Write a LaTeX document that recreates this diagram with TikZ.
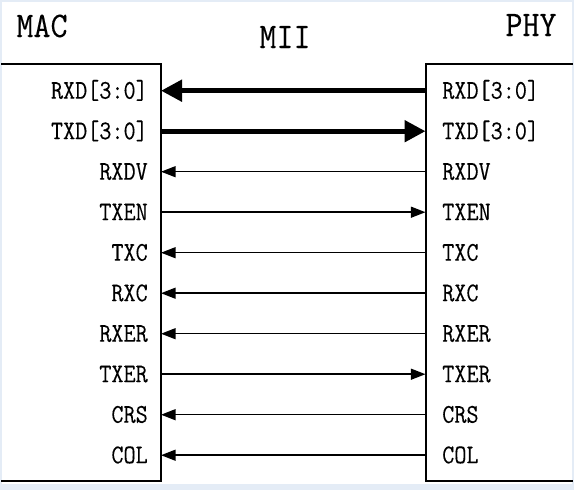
\documentclass[tikz,border=0pt]{standalone}
\usepackage{fontspec}
\newfontfamily\sigfont[FakeStretch=0.87,FakeBold=0.2]{Latin Modern Mono}
\newfontfamily\titlefont[FakeStretch=0.92,FakeBold=0.2]{Latin Modern Mono}
\usetikzlibrary{arrows.meta}
\definecolor{frameblue}{HTML}{E4ECF6}
\tikzset{
  boxline/.style={line width=1.5pt, line cap=rect},
  sig/.style={font=\sigfont\fontsize{20.25}{21}\selectfont, inner sep=0pt},
  lsig/.style={sig, anchor=base east},
  rsig/.style={sig, anchor=base west},
  titletext/.style={font=\titlefont\fontsize{27}{27}\selectfont, inner sep=0pt, anchor=base},
  wirearrow/.style={line width=1.1pt, -{Triangle[length=11pt,width=8.25pt]}},
  busarrow/.style={line width=3.75pt, -{Triangle[length=15.75pt,width=15.75pt]}},
}
\begin{document}
\begin{tikzpicture}[x=0.75pt,y=-0.75pt]
\fill[frameblue] (0,0) rectangle (574,490);
\fill[white] (2,2) rectangle (572,484);
\useasboundingbox (0,0) rectangle (574,490);
% titles
\node[titletext] (mac) at (42,37) {MAC};
\node[titletext] (mii) at (285,48) {MII};
\node[titletext] (phy) at (531,36) {PHY};
% boxes
\coordinate (macTL) at (2,64);
\coordinate (macTR) at (161,64);
\coordinate (macBR) at (161,481);
\coordinate (macBL) at (2,481);
\coordinate (phyTR) at (572,64);
\coordinate (phyTL) at (425.5,64);
\coordinate (phyBL) at (425.5,481);
\coordinate (phyBR) at (572,481);
\draw[boxline] (macTL) -- (macTR) -- (macBR) -- (macBL);
\draw[boxline] (phyTR) -- (phyTL) -- (phyBL) -- (phyBR);
% rows
\foreach \i/\txt in {0/RXD[3:0],1/TXD[3:0],2/RXDV,3/TXEN,4/TXC,5/RXC,6/RXER,7/TXER,8/CRS,9/COL}{
  \pgfmathsetmacro{\yy}{90.7+40.5*\i}
  \coordinate (m\i) at (161,\yy);
  \coordinate (p\i) at (425.5,\yy);
  \node[lsig] (L\i) at (148,\yy+8) {\txt};
  \node[rsig] (R\i) at (442,\yy+8) {\txt};
}
\draw[busarrow] (p0) -- (m0);
\draw[busarrow] (m1) -- (p1);
\draw[wirearrow] (p2) -- (m2);
\draw[wirearrow] (m3) -- (p3);
\draw[wirearrow] (p4) -- (m4);
\draw[wirearrow] (p5) -- (m5);
\draw[wirearrow] (p6) -- (m6);
\draw[wirearrow] (m7) -- (p7);
\draw[wirearrow] (p8) -- (m8);
\draw[wirearrow] (p9) -- (m9);
\end{tikzpicture}
\end{document}
